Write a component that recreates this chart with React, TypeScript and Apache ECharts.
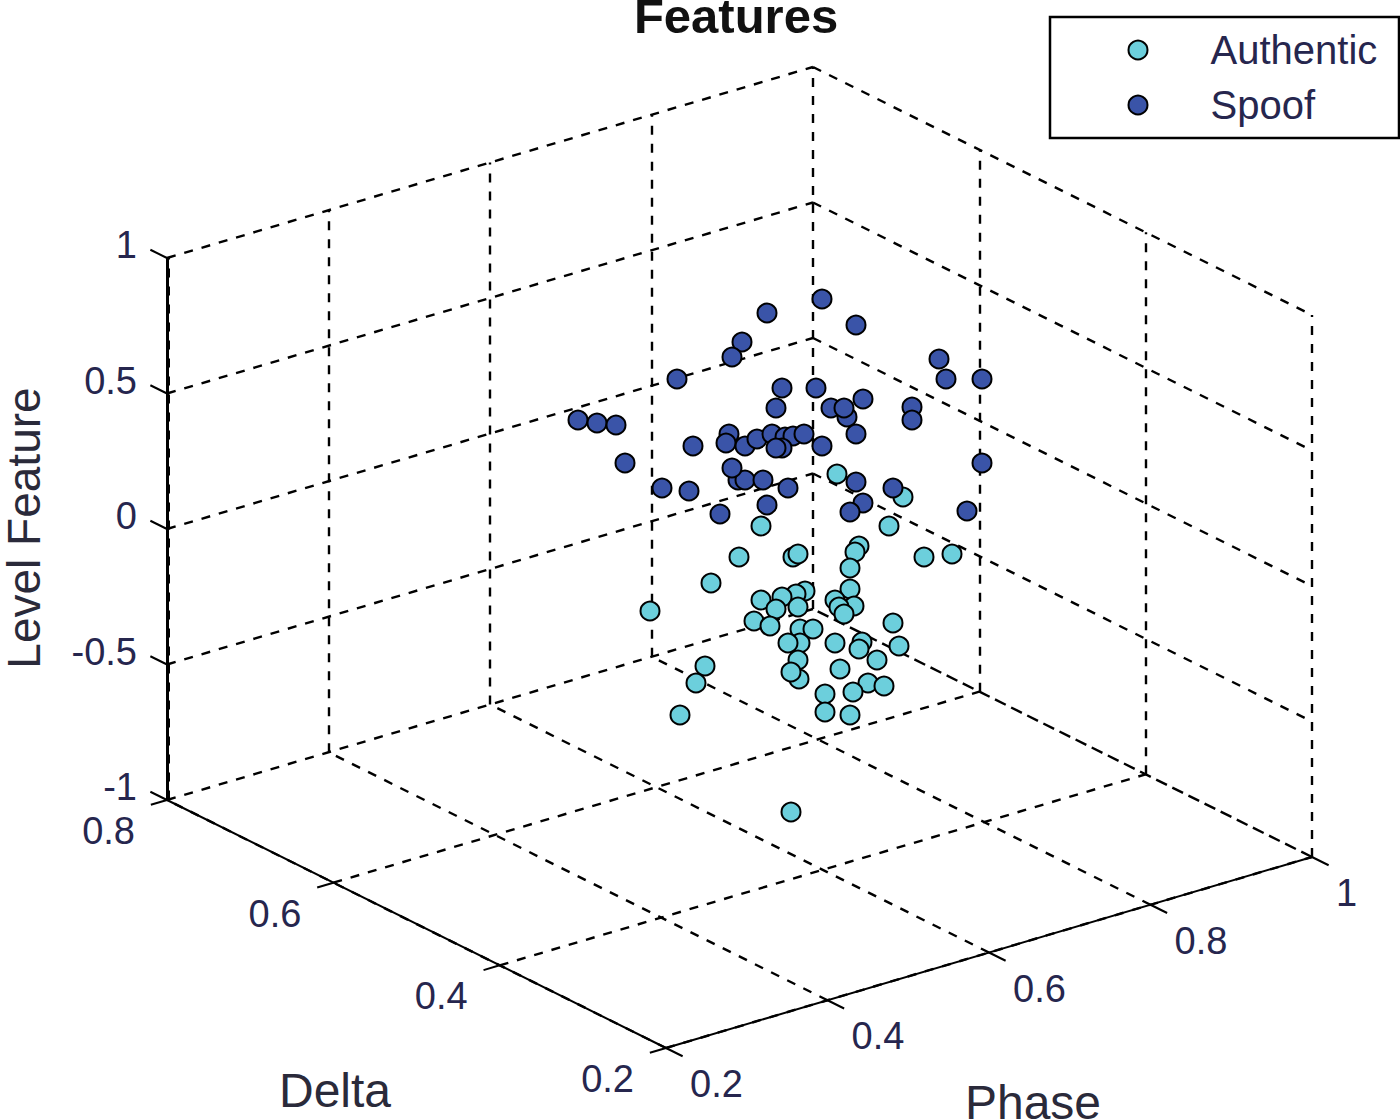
import React, { useEffect, useRef } from "react";
import * as echarts from "echarts";

const phaseTicks = [0.2, 0.4, 0.6, 0.8, 1];
const deltaTicks = [0.2, 0.4, 0.6, 0.8];
const levelTicks = [-1, -0.5, 0, 0.5, 1];
const phaseLabels = ["0.2", "0.4", "0.6", "0.8", "1"];
const deltaLabels = ["0.2", "0.4", "0.6", "0.8"];
const levelLabels = ["-1", "-0.5", "0", "0.5", "1"];

// Points as projected onto the picture plane (3D view already flattened).
const authenticX = [837, 903, 761, 889, 859, 855, 793, 798, 739, 924, 952, 850, 711, 850, 805, 796, 782, 761, 835, 854, 839, 798, 776, 844, 650, 754, 770, 893, 800, 813, 800, 788, 835, 862, 859, 899, 877, 798, 840, 799, 791, 705, 696, 868, 884, 853, 825, 825, 850, 680, 791];
const authenticY = [474, 497, 526, 526, 546, 552, 557, 554, 557, 557, 554, 568, 583, 589, 591, 594, 597, 600, 600, 606, 607, 607, 609, 614, 611, 621, 626, 623, 629, 629, 643, 643, 643, 642, 649, 646, 660, 660, 669, 679, 672, 666, 683, 683, 686, 692, 694, 712, 715, 715, 812];
const spoofX = [822, 767, 856, 742, 732, 677, 939, 946, 982, 782, 816, 863, 776, 831, 847, 844, 912, 912, 856, 578, 597, 616, 729, 726, 745, 757, 772, 785, 793, 804, 822, 782, 776, 693, 625, 982, 738, 745, 732, 763, 662, 689, 788, 856, 893, 767, 863, 850, 720, 967];
const spoofY = [299, 313, 325, 342, 357, 379, 359, 379, 379, 388, 388, 399, 408, 408, 417, 408, 407, 420, 434, 420, 423, 425, 434, 443, 446, 439, 434, 437, 436, 434, 446, 448, 448, 446, 463, 463, 480, 480, 468, 480, 488, 491, 488, 482, 488, 505, 503, 512, 514, 511];

const project = (phase: number, delta: number, level: number): [number, number] => [
  666 + ((phase - 0.2) / 0.8) * 646 - ((delta - 0.2) / 0.6) * 499,
  1048 - ((phase - 0.2) / 0.8) * 191 - ((delta - 0.2) / 0.6) * 248 - ((level + 1) / 2) * 542,
];

const seg = (a: [number, number, number], b: [number, number, number]) => ({
  coords: [project(a[0], a[1], a[2]), project(b[0], b[1], b[2])],
});

const dashed: any[] = [];
phaseTicks.forEach((p) => {
  if (p < 1) dashed.push(seg([p, 0.2, -1], [p, 0.8, -1]));
  if (p > 0.2) dashed.push(seg([p, 0.8, -1], [p, 0.8, 1]));
});
deltaTicks.forEach((d) => {
  if (d < 0.8) {
    dashed.push(seg([0.2, d, -1], [1, d, -1]));
    dashed.push(seg([1, d, -1], [1, d, 1]));
  }
});
levelTicks.forEach((l) => {
  dashed.push(seg([0.2, 0.8, l], [1, 0.8, l]));
  if (l > -1) dashed.push(seg([1, 0.8, l], [1, 0.2, l]));
});

const doubled = [seg([1, 0.2, -1], [1, 0.8, -1])];
const axisBlobs = [seg([0.202, 0.8, -1], [0.202, 0.8, 1])];

const solid: any[] = [
  seg([0.2, 0.8, -1], [0.2, 0.2, -1]),
  seg([0.2, 0.2, -1], [1, 0.2, -1]),
];
phaseTicks.forEach((p) => solid.push(seg([p, 0.2, -1], [p, 0.18, -1])));
deltaTicks.forEach((d) => solid.push(seg([0.2, d, -1], [0.18, d, -1])));
levelTicks.forEach((l) => solid.push(seg([0.2, 0.8, l], [0.2, 0.82, l])));

const tickFont = { fontFamily: "Liberation Sans", fontSize: 38, fill: "#26264e" };
const labelFont = { fontFamily: "Liberation Sans", fontSize: 48, fill: "#2a2a3a" };

const texts: any[] = [
  { type: "rect", shape: { x: 1050, y: 17, width: 349, height: 121 }, style: { fill: "none", stroke: "#000", lineWidth: 2.5 }, silent: true },
  { type: "text", x: 736, y: 16, style: { text: "Features", fontFamily: "Liberation Sans", fontWeight: "bold", fontSize: 49, fill: "#111", align: "center", verticalAlign: "middle" } },
  { type: "text", x: 335, y: 1090, style: { ...labelFont, text: "Delta", align: "center", verticalAlign: "middle" } },
  { type: "text", x: 1033, y: 1102, style: { ...labelFont, text: "Phase", align: "center", verticalAlign: "middle" } },
  { type: "text", x: 24, y: 528, rotation: Math.PI / 2, style: { ...labelFont, fontSize: 46, text: "Level Feature", align: "center", verticalAlign: "middle" } },
];
levelTicks.forEach((l, i) => {
  const [x, y] = project(0.2, 0.8, l);
  texts.push({ type: "text", x: x - 30, y: y - 13, style: { ...tickFont, text: levelLabels[i], align: "right", verticalAlign: "middle" } });
});
deltaTicks.forEach((d, i) => {
  const [x, y] = project(0.2, d, -1);
  texts.push({ type: "text", x: x - 32, y: y + 31, style: { ...tickFont, text: deltaLabels[i], align: "right", verticalAlign: "middle" } });
});
phaseTicks.forEach((p, i) => {
  const [x, y] = project(p, 0.2, -1);
  texts.push({ type: "text", x: x + 24, y: y + 36, style: { ...tickFont, text: phaseLabels[i], align: "left", verticalAlign: "middle" } });
});

const zip = (xs: number[], ys: number[]) => xs.map((x, i) => [x, ys[i]]);
const lineSeries = (data: any[], type: any, width: number, z: number) => ({
  type: "lines",
  coordinateSystem: "cartesian2d",
  silent: true,
  symbol: "none",
  data,
  lineStyle: { color: "#000", width, type, opacity: 1, curveness: 0 },
  z,
});

export default function App() {
  const ref = useRef<HTMLDivElement>(null);
  useEffect(() => {
    document.body.style.margin = "0";
    const chart = echarts.init(ref.current!, undefined, { renderer: "svg" });
    chart.setOption({
      animation: false,
      backgroundColor: "#fff",
      grid: { left: 0, right: 0, top: 0, bottom: 0 },
      xAxis: { type: "value", min: 0, max: 1400, show: false },
      yAxis: { type: "value", min: 0, max: 1120, inverse: true, show: false },
      legend: {
        left: 1127.5,
        top: 28,
        orient: "vertical",
        data: ["Authentic", "Spoof"],
        padding: 0,
        itemWidth: 19,
        itemHeight: 19,
        itemGap: 11,
        selectedMode: false,
        textStyle: { fontFamily: "Liberation Sans", fontSize: 40, color: "#26264e", lineHeight: 44, padding: [0, 0, 0, 58] },
      },
      graphic: texts,
      series: [
        lineSeries(dashed, [9, 9], 2.4, 1),
        lineSeries(doubled, [12, 6], 2.4, 1),
        lineSeries(axisBlobs, [9, 9], 3, 1),
        lineSeries(solid, "solid", 2, 2),
        lineSeries([seg([0.2, 0.8, -1], [0.2, 0.8, 1])], "solid", 3, 2),
        { name: "Authentic", type: "scatter", data: zip(authenticX, authenticY), symbol: "circle", symbolSize: 19, clip: false, itemStyle: { color: "#6ccfdc", borderColor: "#000", borderWidth: 2, opacity: 1 }, z: 3 },
        { name: "Spoof", type: "scatter", data: zip(spoofX, spoofY), symbol: "circle", symbolSize: 19, clip: false, itemStyle: { color: "#3a54a8", borderColor: "#000", borderWidth: 2, opacity: 1 }, z: 4 },
      ],
    });
    return () => chart.dispose();
  }, []);
  return <div ref={ref} style={{ width: 1400, height: 1120 }} />;
}
